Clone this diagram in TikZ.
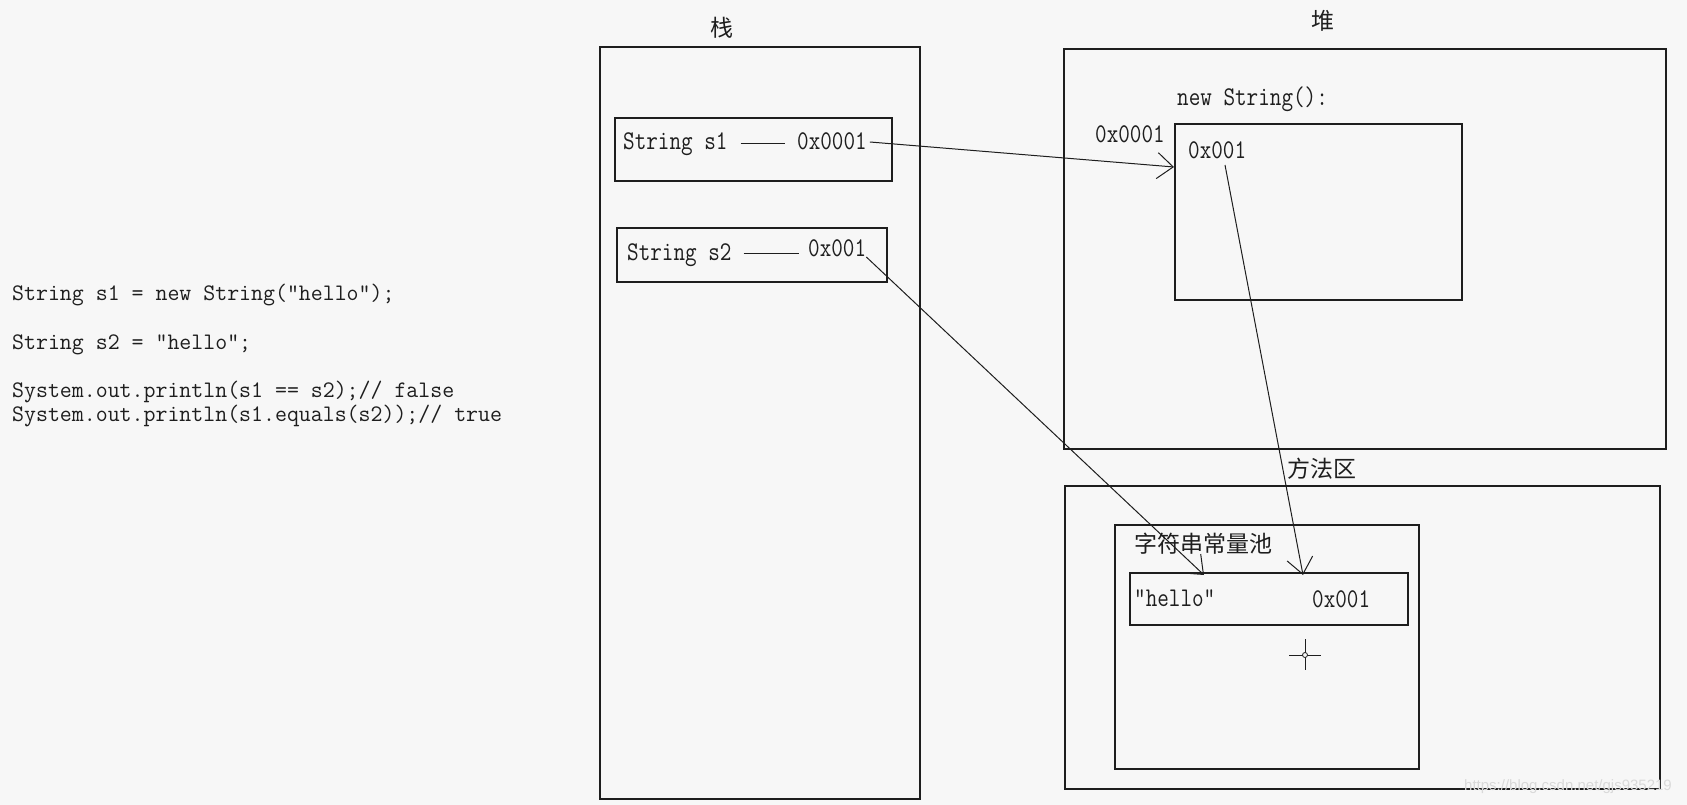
\documentclass[tikz,border=0pt]{standalone}
\usepackage{fontspec}
\usepackage{graphicx}
\usetikzlibrary{arrows.meta,calc}
\newfontfamily\cjkfont{Noto Sans CJK SC}
\newfontfamily\wmfont{Liberation Sans}
\definecolor{bg}{HTML}{F7F7F7}
\definecolor{ink}{HTML}{1E1E1E}
\newcommand\wtxt[1]{\scalebox{1}[1.2]{#1}}
\newcommand\ctxt[1]{\scalebox{1}[1.02]{#1}}
\begin{document}
\begin{tikzpicture}[x=1pt,y=-1pt,
  box/.style={draw=ink, line width=1.7pt, rectangle, anchor=north west, inner sep=0pt},
  code/.style={inner sep=0pt, anchor=base west, text=ink, font=\ttfamily\fontsize{23.2}{27}\selectfont},
  scode/.style={code, font=\ttfamily\fontsize{22.5}{27}\selectfont},
  cjk/.style={inner sep=0pt, text=ink, font=\cjkfont\fontsize{23}{27}\selectfont},
  ptr/.style={draw=ink, line width=1pt, -{Straight Barb[length=16pt,width=26pt]}},
  dashln/.style={draw=ink, line width=1pt}]
\fill[bg] (0,0) rectangle (1687,805);
\useasboundingbox (0,0) rectangle (1687,805);

% left code
\node[code] (c1) at (12,300) {\ctxt{String s1 = new String("hello");}};
\node[code] (c2) at (12,349) {\ctxt{String s2 = "hello";}};
\node[code] (c3) at (12,397) {\ctxt{System.out.println(s1 == s2);// false}};
\node[code] (c4) at (12,421) {\ctxt{System.out.println(s1.equals(s2));// true}};

% stack
\node[cjk] (stackt) at (722,28) {栈};
\node[box, minimum width=320pt, minimum height=752pt] (stack) at (599,46) {};
\node[box, minimum width=277pt, minimum height=63pt] (s1box) at (614,117) {};
\node[box, minimum width=270pt, minimum height=54pt] (s2box) at (616,227) {};
\node[scode] (s1n) at (623,150) {\wtxt{String s1}};
\node[scode] (s1a) at (797,150) {\wtxt{0x0001}};
\node[scode] (s2n) at (627,261) {\wtxt{String s2}};
\node[scode] (s2a) at (808,257) {\wtxt{0x001}};
\draw[dashln] ($(s1n.base east)+(13,-6.5)$) -- ($(s1a.base west)+(-12,-6.5)$);
\draw[dashln] ($(s2n.base east)+(12,-7)$) -- ($(s2a.base west)+(-9,-3)$);

% heap
\node[cjk] (heapt) at (1323,21) {堆};
\node[box, minimum width=602pt, minimum height=400pt] (heap) at (1063,48) {};
\node[scode] (newstr) at (1177,106) {\wtxt{new String():}};
\node[box, minimum width=287pt, minimum height=176pt] (obj) at (1174,123) {};
\node[scode] (objaddr) at (1095,143) {\wtxt{0x0001}};
\node[scode] (oa) at (1188,159) {\wtxt{0x001}};

% method area
\node[cjk] (methodt) at (1322,469) {方法区};
\node[box, minimum width=595pt, minimum height=303pt] (method) at (1064,485) {};
\node[box, minimum width=304pt, minimum height=244pt] (pool) at (1114,524) {};
\node[cjk] (poolt) at (1203,544) {字符串常量池};
\node[box, minimum width=278pt, minimum height=52pt] (hellobox) at (1129,572) {};
\node[scode] (hello) at (1134,606) {\wtxt{"hello"}};
\node[scode] (ha) at (1312,607) {\wtxt{0x001}};

% crosshair
\coordinate (cross) at (1305,655);
\draw[ink, line width=1pt] ($(cross)+(-16,0)$) -- ($(cross)+(16,0)$)
  ($(cross)+(0,-16)$) -- ($(cross)+(0,15)$);
\draw[ink, line width=0.8pt, fill=bg] (cross) circle (2.5pt);

% pointers
\draw[ptr] ($(s1a.base east)+(3,-8)$) -- ($(obj.north west)+(0,44)$);
\draw[ptr] ($(s2a.base east)+(0,0)$) -- ($(hellobox.north west)+(75,3)$);
\draw[ptr] ($(oa.base west)+(37,6)$) -- ($(hellobox.north west)+(174,3)$);

% watermark
\node[inner sep=0pt, text=gray!30, font=\wmfont\fontsize{15}{17}\selectfont] (wm) at (1568,787) {https://blog.csdn.net/gjs935219};
\end{tikzpicture}
\end{document}
